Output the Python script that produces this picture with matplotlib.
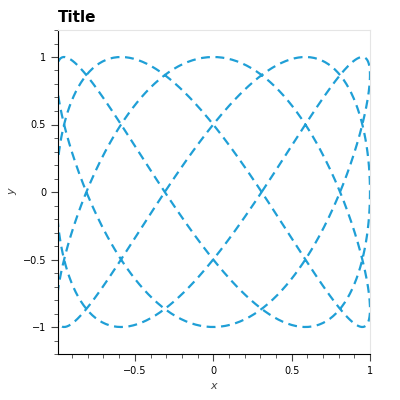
import numpy as np
import matplotlib
matplotlib.use("Agg")
import matplotlib.pyplot as plt

# Lissajous parameters: x = sin(a t + phase), y = sin(b t)
freq_x = 3
freq_y = 5
phase_x_deg = 18
n_samples = 1200
xticks = [-0.5, 0, 0.5, 1]
yticks = [-1, -0.5, 0, 0.5, 1]

t = np.linspace(0, 2 * np.pi, n_samples)
x = np.sin(freq_x * t + np.deg2rad(phase_x_deg))
y = np.sin(freq_y * t)

fig = plt.figure(figsize=(4, 4), dpi=100)
ax = fig.add_axes([0.145, 0.115, 0.78, 0.81])
ax.plot(x, y, linestyle=(0, (4, 2.5)), color="#1f9fd6", lw=1.6)
ax.set_xlim(-0.99, 1.0)
ax.set_ylim(-1.2, 1.2)
ax.set_xticks(xticks)
ax.set_xticklabels(["−0.5", "0", "0.5", "1"])
ax.set_yticks(yticks)
ax.set_yticklabels(["−1", "−0.5", "0", "0.5", "1"])
ax.minorticks_on()
ax.tick_params(which="both", labelsize=7, color="#444444")
ax.tick_params(which="major", length=5)
ax.tick_params(which="minor", length=3)
for s in ["top", "right"]:
    ax.spines[s].set_color("#e5e5e5")
ax.set_xlabel("x", style="italic", fontsize=8, color="#444444")
ax.set_ylabel("y", style="italic", fontsize=8, color="#444444")
ax.set_title("Title", loc="left", fontweight="bold", fontsize=11)
fig.savefig("out.png")
